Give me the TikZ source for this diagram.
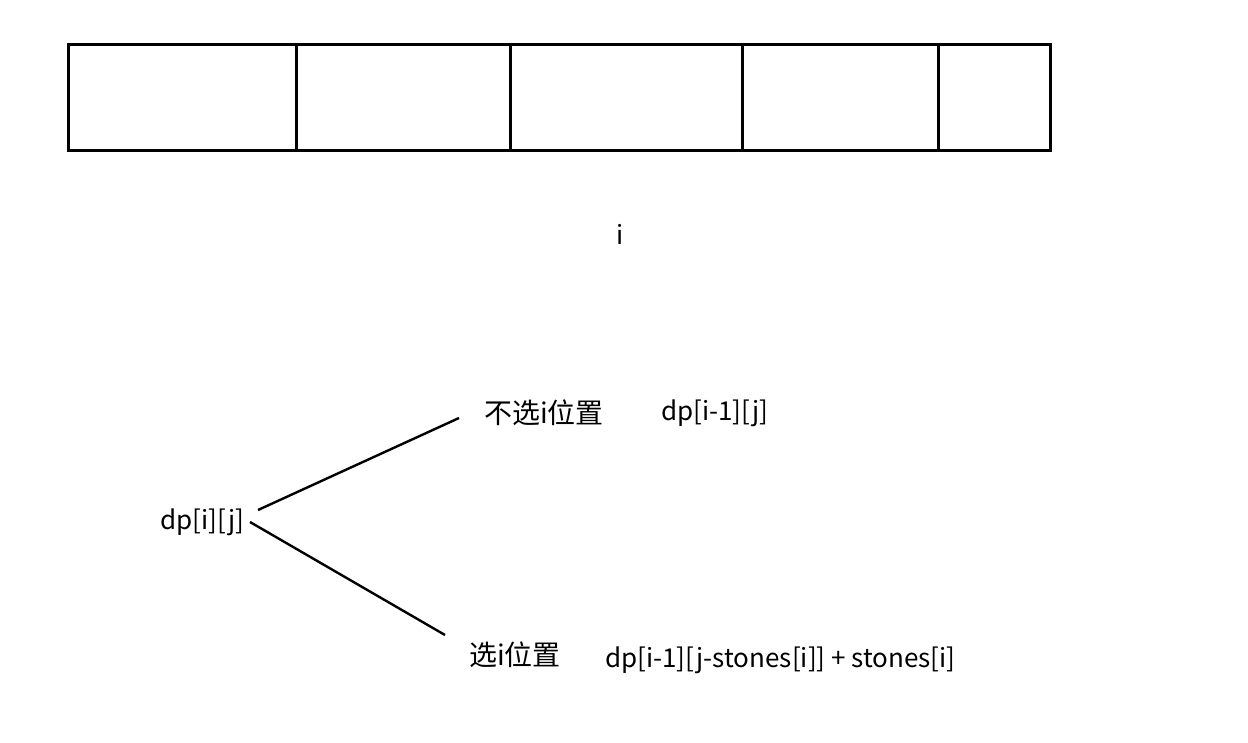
\documentclass[tikz,border=0pt]{standalone}
\usepackage{fontspec}
\setmainfont{Noto Sans CJK SC}
\usetikzlibrary{calc}
\begin{document}
\begin{tikzpicture}[x=1pt,y=-1pt,
  cell/.style={draw,line width=2.6pt,minimum height=106pt,inner sep=0pt,anchor=north west},
  lbl/.style={font=\fontsize{26}{30}\selectfont,inner sep=0pt,anchor=west},
  cjk/.style={font=\fontsize{28}{32}\selectfont,inner sep=0pt,anchor=west},
  branch/.style={line width=2.4pt}]
\useasboundingbox (0,0) rectangle (1248,742);
\node[cell,minimum width=228pt] (c1) at (67,43) {};
\node[cell,minimum width=214pt] (c2) at (295,43) {};
\node[cell,minimum width=232pt] (c3) at (509,43) {};
\node[cell,minimum width=196pt] (c4) at (741,43) {};
\node[cell,minimum width=112pt] (c5) at (937,43) {};
\node[lbl,anchor=center] (i) at (620,234) {i};
\node[lbl] (dp) at (160,522) {dp[i][j]};
\node[cjk] (up) at (484,413) {不选i位置};
\node[lbl] (upf) at (661,413) {dp[i-1][j]};
\node[cjk] (lo) at (469,655) {选i位置};
\node[lbl] (lof) at (605,660) {dp[i-1][j-stones[i]] + stones[i]};
\coordinate (a1) at (258,510);
\coordinate (a2) at (459,418);
\coordinate (b1) at (250,522);
\coordinate (b2) at (445,635);
\draw[branch] (a1) -- (a2);
\draw[branch] (b1) -- (b2);
\end{tikzpicture}
\end{document}
